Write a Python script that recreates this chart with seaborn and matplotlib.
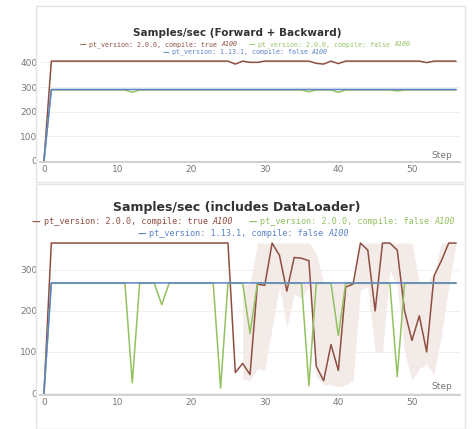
import numpy as np
import pandas as pd
import matplotlib.pyplot as plt
import seaborn as sns
from matplotlib.offsetbox import TextArea, HPacker, AnchoredOffsetbox

sns.set_theme(style='white')

steps = list(range(57))

# Forward + Backward
fb_true = [0] + [405] * 56
for s, v in {26: 393, 28: 400, 29: 400, 37: 396, 38: 393, 40: 395, 52: 399}.items():
    fb_true[s] = v
fb_false = [0] + [288] * 56
for s, v in {12: 279, 36: 281, 40: 279, 48: 284}.items():
    fb_false[s] = v
fb_old = [0] + [290] * 56

# includes DataLoader
dl_true = [0] + [365] * 25 + [50, 72, 45, 265, 262, 365, 335, 248, 330, 328, 322, 65, 30, 118, 55,
                              258, 265, 365, 348, 200, 365, 365, 348, 200, 128, 188, 100, 285, 322, 365, 365]
dl_false = [0] + [267] * 56
for s, v in {12: 25, 16: 215, 24: 12, 28: 145, 36: 18, 40: 140, 48: 40}.items():
    dl_false[s] = v
dl_old = [0] + [268] * 56
band_lo = [None] * 27 + [35, 30, 60, 55, 160, 260, 160, 240, 230, 260, 40, 20, 20, 15, 20,
                         30, 250, 260, 100, 100, 300, 260, 100, 30, 60, 70, 45, 140, 260, 365]
band_hi = [None] * 27 + [265, 265, 365, 365, 365, 365, 365, 365, 365, 365, 340, 268, 268, 268, 268,
                         268, 365, 365, 365, 365, 365, 365, 365, 365, 268, 268, 290, 365, 365, 365]

c_true, c_false, c_old = '#8f4e42', '#93c160', '#5b82c8'
labels = ['pt_version: 2.0.0, compile: true ', 'pt_version: 2.0.0, compile: false ',
          'pt_version: 1.13.1, compile: false ']

fig = plt.figure(figsize=(4.74, 4.29), dpi=100)
ax1 = fig.add_axes([0.085, 0.622, 0.885, 0.247])
ax2 = fig.add_axes([0.085, 0.079, 0.885, 0.364])
for y0, h in [(0.575, 0.41), (0.0, 0.57)]:
    fig.patches.append(plt.Rectangle((0.075, y0), 0.905, h, transform=fig.transFigure,
                                     fill=False, edgecolor='#e4e4e4', lw=1))


def draw(ax, ys, ylim, yticks, band=None):
    if band is not None:
        lo = np.array([np.nan if v is None else v for v in band[0]], float)
        hi = np.array([np.nan if v is None else v for v in band[1]], float)
        ax.fill_between(steps, lo, hi, color='#f3ebe8', lw=0)
    for y, c in zip(ys, [c_true, c_false, c_old]):
        sns.lineplot(x=steps, y=y, color=c, lw=1.1, ax=ax)
    ax.set_xlim(-0.5, 56.5)
    ax.set_ylim(*ylim)
    ax.set_yticks(yticks)
    ax.set_xticks(range(0, 60, 10))
    ax.tick_params(labelsize=6.5, colors='#777777', length=0, pad=2)
    for sp in ['top', 'right', 'left']:
        ax.spines[sp].set_visible(False)
    ax.spines['bottom'].set_color('#cccccc')
    ax.grid(axis='y', color='#f0f0f0', lw=0.7)
    ax.text(55.5, ylim[0] + (ylim[1] - ylim[0]) * 0.04, 'Step', fontsize=6.5, color='#777777', ha='right')


draw(ax1, [fb_true, fb_false, fb_old], (-5, 425), [0, 100, 200, 300, 400])
draw(ax2, [dl_true, dl_false, dl_old], (-5, 375), [0, 100, 200, 300], band=(band_lo, band_hi))

fig.text(0.5, 0.923, 'Samples/sec (Forward + Backward)', ha='center', va='center',
         fontsize=7.5, color='#333333', fontweight='semibold')
fig.text(0.5, 0.517, 'Samples/sec (includes DataLoader)', ha='center', va='center',
         fontsize=9, color='#333333', fontweight='semibold')


def legend_row(y, items, fs, xc):
    parts = []
    for lab, c in items:
        parts.append(TextArea('— ', textprops=dict(color=c, fontsize=fs, fontweight='bold')))
        parts.append(TextArea(lab, textprops=dict(color=c, fontsize=fs, family='DejaVu Sans Mono')))
        parts.append(TextArea('A100   ', textprops=dict(color=c, fontsize=fs, family='DejaVu Sans Mono', style='italic')))
    box = HPacker(children=parts, align='baseline', pad=0, sep=0)
    ab = AnchoredOffsetbox(loc='center', child=box, bbox_to_anchor=(xc, y), bbox_transform=fig.transFigure,
                           frameon=False, pad=0, borderpad=0)
    fig.add_artist(ab)


legend_row(0.897, [(labels[0], c_true), (labels[1], c_false)], 4.8, 0.53)
legend_row(0.879, [(labels[2], c_old)], 4.8, 0.53)
legend_row(0.483, [(labels[0], c_true), (labels[1], c_false)], 6.1, 0.53)
legend_row(0.455, [(labels[2], c_old)], 6.1, 0.53)

fig.savefig('out.png', dpi=100)
